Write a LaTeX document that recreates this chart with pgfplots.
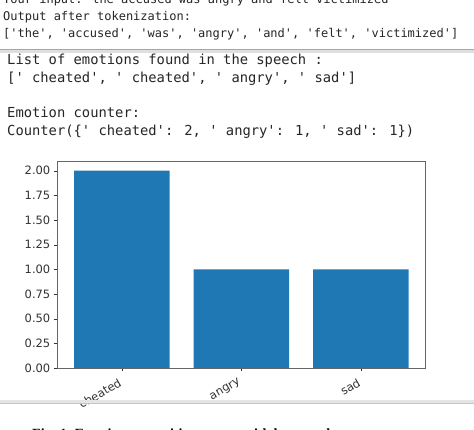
\documentclass[border=0pt]{standalone}
\usepackage{pgfplots}
\pgfplotsset{compat=1.18}
\usepackage{fontspec}
\setmainfont{DejaVu Sans}
\newfontfamily\conmono{DejaVu Sans Mono}
\newfontfamily\capserif{Liberation Serif}
\definecolor{tabblue}{HTML}{1F77B4}
\definecolor{contxt}{HTML}{262626}
\begin{document}
\begin{tikzpicture}[x=1pt,y=1pt]
\clip (0,0) rectangle (474,429);
\fill[white] (0,0) rectangle (474,429);
% console text, first block
\node[anchor=base west, inner sep=0, text=contxt, font=\conmono\fontsize{12}{14}\selectfont] at (3,425) {Your input: the accused was angry and felt victimized};
\node[anchor=base west, inner sep=0, text=contxt, font=\conmono\fontsize{12}{14}\selectfont] at (3,408) {Output after tokenization:};
\node[anchor=base west, inner sep=0, text=contxt, font=\conmono\fontsize{12}{14}\selectfont] at (3,391) {['the', 'accused', 'was', 'angry', 'and', 'felt', 'victimized']};
\fill[gray!25] (0,376) rectangle (474,379);
\draw[gray!70, line width=1pt] (0,379.5) -- (474,379.5);
% console text, second block
\node[anchor=base west, inner sep=0, text=contxt, font=\conmono\fontsize{13.8}{16}\selectfont] at (7,364) {List of emotions found in the speech :};
\node[anchor=base west, inner sep=0, text=contxt, font=\conmono\fontsize{13.8}{16}\selectfont] at (7,346) {[' cheated', ' cheated', ' angry', ' sad']};
\node[anchor=base west, inner sep=0, text=contxt, font=\conmono\fontsize{13.8}{16}\selectfont] at (7,311) {Emotion counter:};
\node[anchor=base west, inner sep=0, text=contxt, font=\conmono\fontsize{13.8}{16}\selectfont] at (7,293) {Counter(\{' cheated': 2, ' angry': 1, ' sad': 1\})};
\begin{axis}[
  at={(48,62)}, anchor=south west,
  width=368pt, height=207pt, scale only axis,
  xmin=-0.54, xmax=2.54, ymin=0, ymax=2.1,
  xtick={0,1,2}, xticklabels={cheated,angry,sad},
  ytick={0,0.25,0.5,0.75,1,1.25,1.5,1.75,2},
  yticklabel style={/pgf/number format/fixed, /pgf/number format/fixed zerofill, /pgf/number format/precision=2},
  xticklabel style={rotate=30, anchor=north east, inner sep=1.5pt, xshift=-5pt, yshift=-2pt},
  tick align=outside, tick pos=left, major tick length=3.5pt,
  axis line style={black!60},
  tick style={black!80},
  ticklabel style={font=\fontsize{11.5}{13}\selectfont, text=black!80},
  /pgf/number format/assume math mode=true,
]
\addplot[ybar, bar width=0.8, fill=tabblue, draw=none] coordinates {(0,2) (1,1) (2,1)};
\end{axis}
\fill[gray!20] (0,26) rectangle (474,29);
\draw[gray!45, line width=0.6pt] (0,26) -- (474,26);
\node[anchor=base west, inner sep=0, font=\capserif\bfseries\fontsize{14}{16}\selectfont] at (32,-9) {Fig. 1. Emotion recognition output with bar graph};
\end{tikzpicture}
\end{document}
